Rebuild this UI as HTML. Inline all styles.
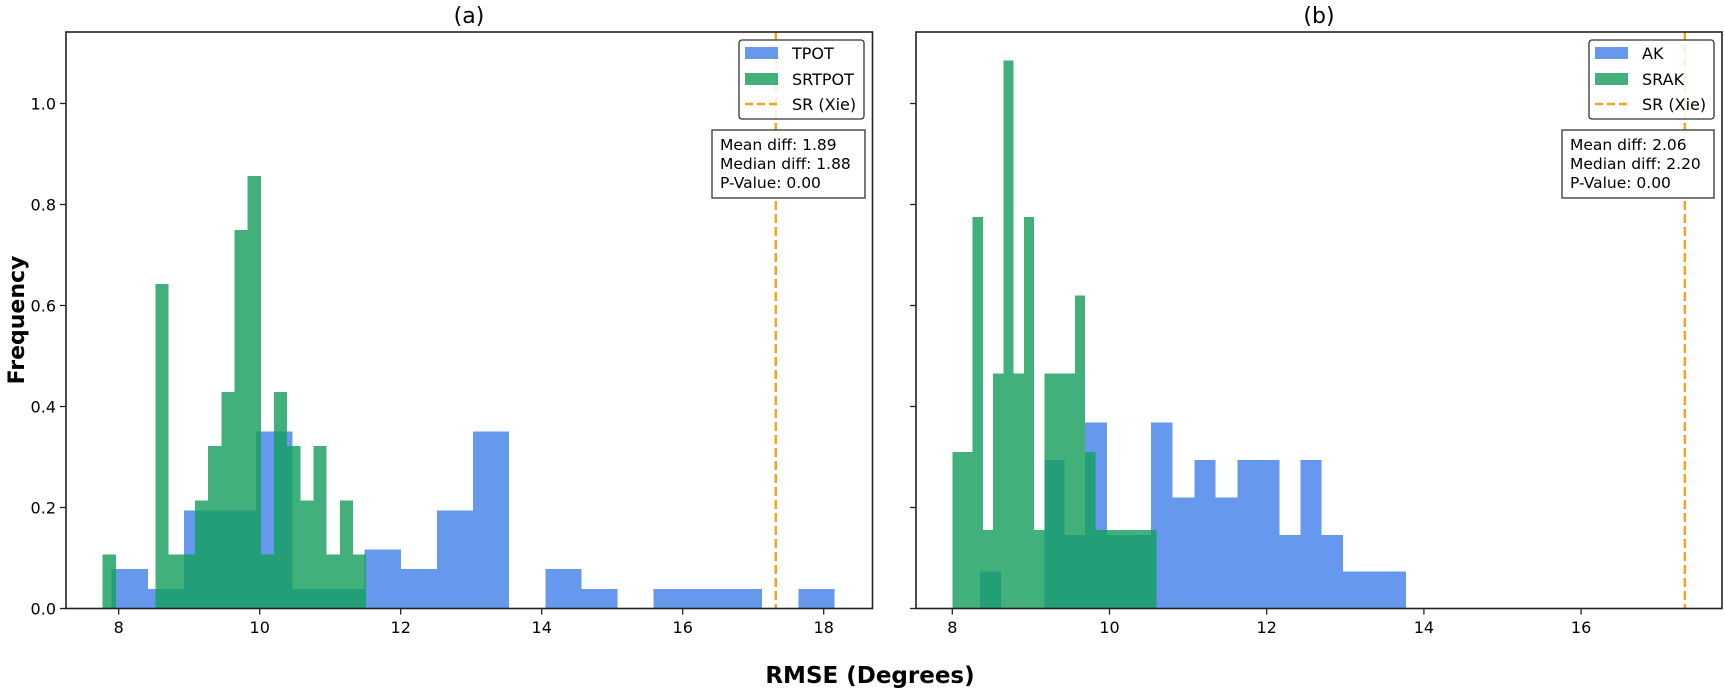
<!DOCTYPE html>
<html><head><meta charset="utf-8"><style>
html,body{margin:0;padding:0;background:#fff;}
svg{display:block;font-family:"DejaVu Sans","Liberation Sans",sans-serif;}
</style></head><body>
<svg id="s" width="1725" height="690" viewBox="0 0 1725 690" xmlns="http://www.w3.org/2000/svg">
<rect width="1725" height="690" fill="#fff"/>
<g id="bars" shape-rendering="crispEdges"></g>
<g id="axes"></g>
<text x="469" y="23" font-size="22" text-anchor="middle" fill="#000">(a)</text>
<text x="1319" y="23" font-size="22" text-anchor="middle" fill="#000">(b)</text>
<text x="870" y="683" font-size="23" font-weight="bold" text-anchor="middle" fill="#000">RMSE (Degrees)</text>
<text transform="translate(24,320) rotate(-90)" font-size="22" font-weight="bold" text-anchor="middle" fill="#000">Frequency</text>
</svg>
<script>
var NS="http://www.w3.org/2000/svg";
var bars=document.getElementById('bars'), axes=document.getElementById('axes');
function el(p,tag,a,txt){var e=document.createElementNS(NS,tag);for(var k in a)e.setAttribute(k,a[k]);if(txt!=null)e.textContent=txt;p.appendChild(e);return e;}
var BLUE="#6699ee",GREEN="#41b07b",DARK="#229f78";
var Y0=608.5,YS=505;
function mkBins(start,w,vals,unit){var r=[];for(var i=0;i<vals.length;i++)r.push([start+i*w,start+(i+1)*w,vals[i]*unit]);return r;}
function hAt(bins,u){for(var i=0;i<bins.length;i++){if(u>=bins[i][0]&&u<bins[i][1])return bins[i][2];}return 0;}
function draw(X,blue,green){
  var pts=[];blue.concat(green).forEach(function(b){pts.push(b[0],b[1]);});
  pts.sort(function(a,b){return a-b;});
  for(var i=0;i<pts.length-1;i++){
    var a=pts[i],b=pts[i+1];if(b-a<1e-6)continue;var m=(a+b)/2;
    var hb=hAt(blue,m),hg=hAt(green,m);
    var x0=X(a),x1=X(b);
    if(hb>0)el(bars,'rect',{x:x0,y:Y0-hb*YS,width:x1-x0,height:hb*YS,fill:BLUE});
    if(hg>0)el(bars,'rect',{x:x0,y:Y0-hg*YS,width:x1-x0,height:hg*YS,fill:GREEN});
    var mn=Math.min(hb,hg);
    if(mn>0)el(bars,'rect',{x:x0,y:Y0-mn*YS,width:x1-x0,height:mn*YS,fill:DARK});
  }
}
var XL=function(u){return 118.7+(u-8)*70.5;};
var blueL=mkBins(7.9,0.2563,[2,2,1,1,5,5,5,5,9,9,1,1,1,1,3,3,2,2,5,5,9,9,0,0,2,2,1,1,0,0,1,1,1,1,1,1,0,0,1,1],0.0389);
var greenL=mkBins(7.773,0.18685,[1,0,0,0,6,1,1,2,3,4,7,8,1,4,3,2,3,1,2,1],0.1071);
draw(XL,blueL,greenL);
var XR=function(u){return 952.3+(u-8)*78.6;};
var blueR=[[8.35,8.62,0.073],[9.17,9.43,0.294],[9.43,9.69,0.146],[9.69,9.97,0.368],[9.97,10.53,0.146],[10.53,10.8,0.368],[10.8,11.08,0.22],[11.08,11.35,0.294],[11.35,11.63,0.22],[11.63,12.16,0.294],[12.16,12.43,0.146],[12.43,12.7,0.294],[12.7,12.97,0.146],[12.97,13.77,0.073]];
var greenR=mkBins(8.0,0.13,[2,2,5,1,3,7,3,5,1,3,3,3,4,2,1,1,1,1,1,1],0.155);
draw(XR,blueR,greenR);
function axis(x0,x1,X,ticks,ylabels){
  var top=32;
  el(axes,'line',{x1:X(17.32),x2:X(17.32),y1:top,y2:Y0,stroke:"#f5a31a","stroke-width":2.4,"stroke-dasharray":"9,4"});
  el(axes,'rect',{x:x0,y:top,width:x1-x0,height:Y0-top,fill:"none",stroke:"#222","stroke-width":1.6});
  ticks.forEach(function(t){var x=X(t);el(axes,'line',{x1:x,x2:x,y1:Y0,y2:Y0+6,stroke:"#222","stroke-width":1.3});
    el(axes,'text',{x:x,y:633,"font-size":16,"text-anchor":"middle",fill:"#000"},String(t));});
  [0,0.2,0.4,0.6,0.8,1.0].forEach(function(v){var y=Y0-v*YS;el(axes,'line',{x1:x0-6,x2:x0,y1:y,y2:y,stroke:"#222","stroke-width":1.3});
    if(ylabels)el(axes,'text',{x:x0-10,y:y+6,"font-size":16,"text-anchor":"end",fill:"#000"},v.toFixed(1));});
}
axis(66,872.5,XL,[8,10,12,14,16,18],true);
axis(916,1722,XR,[8,10,12,14,16],false);
function legend(bx,bw,n1,n2,stats,sx,sw){
  el(axes,'rect',{x:bx,y:40,width:bw,height:79,rx:3,fill:"#fff","fill-opacity":0.85,stroke:"#333","stroke-width":1.3});
  el(axes,'rect',{x:bx+6,y:47,width:33,height:12,fill:BLUE});
  el(axes,'rect',{x:bx+6,y:73,width:33,height:12,fill:GREEN});
  el(axes,'line',{x1:bx+6,x2:bx+39,y1:104,y2:104,stroke:"#f5a31a","stroke-width":2.4,"stroke-dasharray":"8,4"});
  el(axes,'text',{x:bx+53,y:59,"font-size":16,fill:"#000"},n1);
  el(axes,'text',{x:bx+53,y:85,"font-size":16,fill:"#000"},n2);
  el(axes,'text',{x:bx+53,y:110,"font-size":16,fill:"#000"},"SR (Xie)");
  el(axes,'rect',{x:sx,y:130,width:sw,height:68,fill:"#fff",stroke:"#333","stroke-width":1.3});
  for(var i=0;i<3;i++)el(axes,'text',{x:sx+8,y:150+i*19,"font-size":15.5,fill:"#000"},stats[i]);
}
legend(739,125,"TPOT","SRTPOT",["Mean diff: 1.89","Median diff: 1.88","P-Value: 0.00"],712,153);
legend(1589,125,"AK","SRAK",["Mean diff: 2.06","Median diff: 2.20","P-Value: 0.00"],1562,152);
</script>
</body></html>
